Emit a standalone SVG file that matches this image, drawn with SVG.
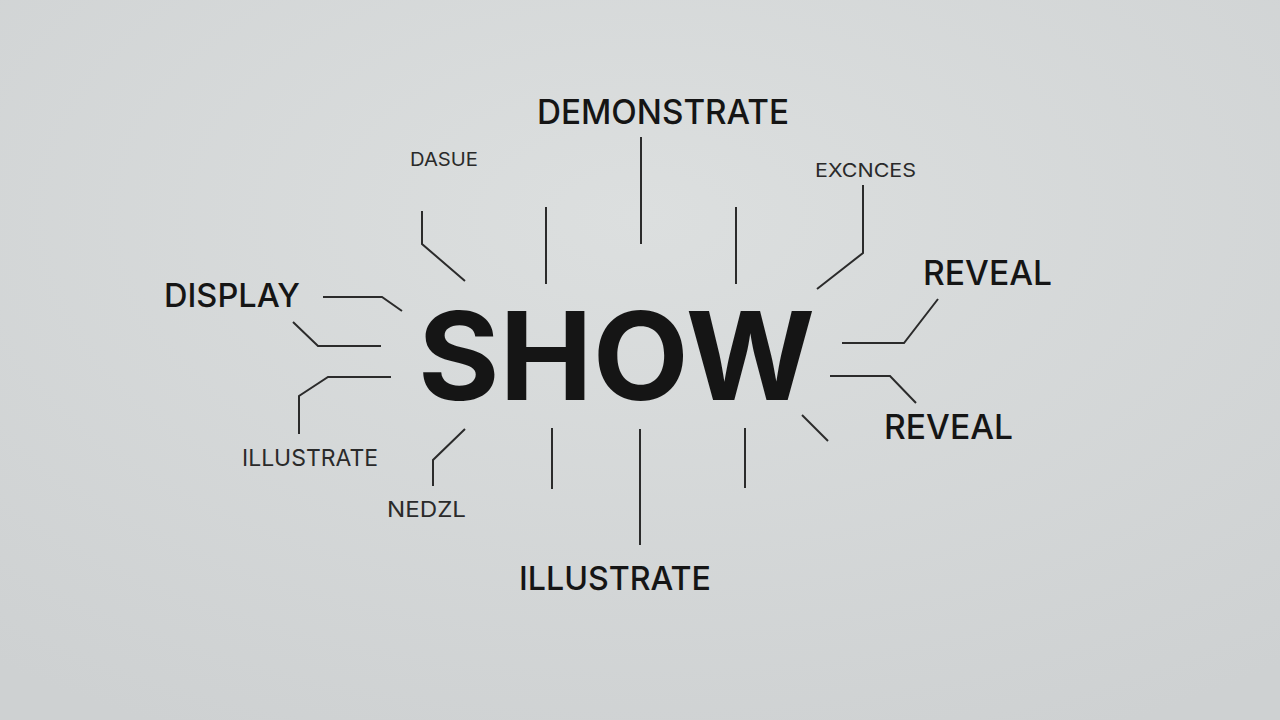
<svg xmlns="http://www.w3.org/2000/svg" width="1280" height="720" viewBox="0 0 1280 720">
<defs>
<radialGradient id="bg" cx="0.5" cy="0.3" r="0.8">
<stop offset="0" stop-color="#dcdfdf"/>
<stop offset="1" stop-color="#ced1d2"/>
</radialGradient>
<style>
.t{font-family:"Inter","Lato","Liberation Sans",sans-serif;fill:#151515}
.b{font-weight:500}
.l{font-weight:400;fill:#2a2a2a}
.c{fill:none;stroke:#2b2b2b;stroke-width:2;stroke-linejoin:miter}
</style>
</defs>
<rect width="1280" height="720" fill="url(#bg)"/>
<g id="connectors">
<polyline class="c" points="422,211 422,244 465,281"/>
<line class="c" x1="546" y1="207" x2="546" y2="284"/>
<line class="c" x1="641" y1="137" x2="641" y2="244"/>
<line class="c" x1="736" y1="207" x2="736" y2="284"/>
<polyline class="c" points="863,185 863,253 817,289"/>
<polyline class="c" points="323,297 382,297 402,311"/>
<polyline class="c" points="293,322 318,346 381,346"/>
<polyline class="c" points="391,377 328,377 299,396 299,434"/>
<polyline class="c" points="465,429 433,460 433,486"/>
<line class="c" x1="552" y1="428" x2="552" y2="489"/>
<line class="c" x1="640" y1="429" x2="640" y2="545"/>
<line class="c" x1="745" y1="428" x2="745" y2="488"/>
<line class="c" x1="802" y1="415" x2="828" y2="441"/>
<polyline class="c" points="938,299 904,343 842,343"/>
<polyline class="c" points="830,376 890,376 916,403"/>
</g>
<g id="show"><text class="t" x="418" y="400" font-size="122" font-weight="700" textLength="397" lengthAdjust="spacingAndGlyphs" fill="#0a0a0a">SHOW</text></g>
<g id="demonstrate"><text class="t b" x="537" y="124" font-size="34" textLength="252" lengthAdjust="spacingAndGlyphs">DEMONSTRATE</text></g>
<g id="dasue"><text class="t l" x="410" y="166" font-size="19" textLength="68" lengthAdjust="spacingAndGlyphs">DASUE</text></g>
<g id="excnces"><text class="t l" x="815" y="177" font-size="19" textLength="101" lengthAdjust="spacingAndGlyphs">EXCNCES</text></g>
<g id="display"><text class="t b" x="164" y="307" font-size="33" textLength="136" lengthAdjust="spacingAndGlyphs">DISPLAY</text></g>
<g id="reveal1"><text class="t b" x="923" y="285" font-size="34" textLength="129" lengthAdjust="spacingAndGlyphs">REVEAL</text></g>
<g id="reveal2"><text class="t b" x="884" y="439" font-size="34" textLength="129" lengthAdjust="spacingAndGlyphs">REVEAL</text></g>
<g id="illustrate1"><text class="t l" x="242" y="466" font-size="23" textLength="136" lengthAdjust="spacingAndGlyphs">ILLUSTRATE</text></g>
<g id="nedzl"><text class="t l" x="387" y="517" font-size="21" textLength="79" lengthAdjust="spacingAndGlyphs">NEDZL</text></g>
<g id="illustrate2"><text class="t b" x="519" y="590" font-size="33" textLength="192" lengthAdjust="spacingAndGlyphs">ILLUSTRATE</text></g>
</svg>
